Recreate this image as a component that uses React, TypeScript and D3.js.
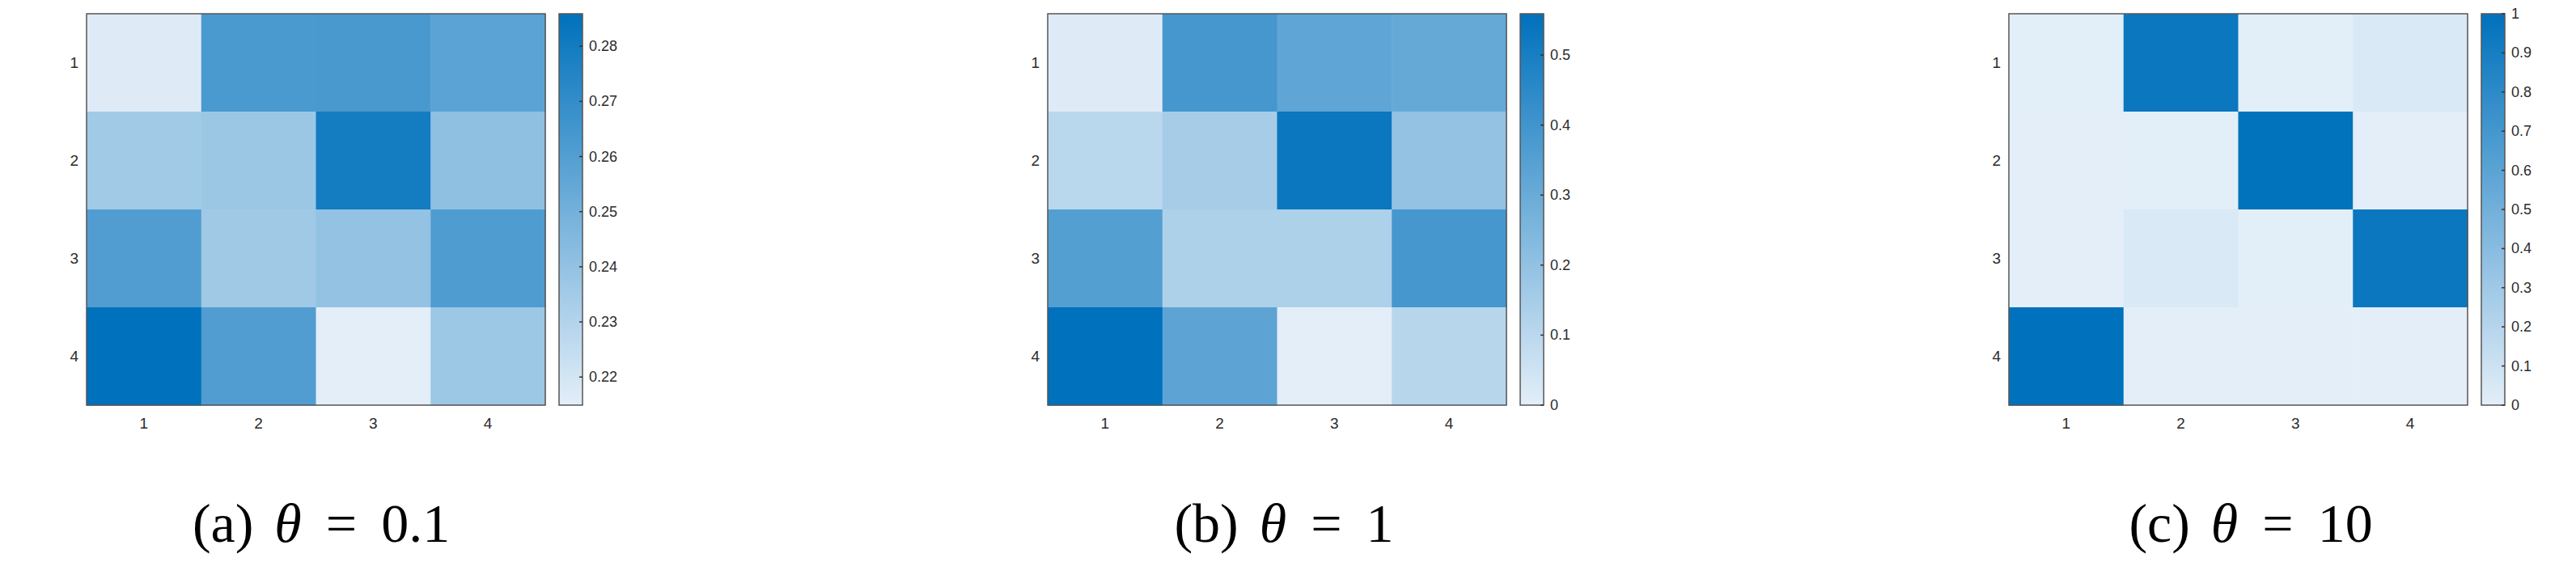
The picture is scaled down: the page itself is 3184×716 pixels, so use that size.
import React from "react";
import * as d3 from "d3";

// ---- data ----
const rowLabels = ["1", "2", "3", "4"];
const colLabels = ["1", "2", "3", "4"];

const matrixA = [
  [0.2164, 0.2628, 0.263, 0.2575],
  [0.2355, 0.2373, 0.2797, 0.2413],
  [0.2607, 0.236, 0.2398, 0.2612],
  [0.2859, 0.2607, 0.2149, 0.237],
];
const matrixB = [
  [0.012, 0.39, 0.326, 0.31],
  [0.1, 0.15, 0.534, 0.198],
  [0.353, 0.13, 0.13, 0.39],
  [0.559, 0.33, 0.0, 0.108],
];
const matrixC = [
  [0.004, 0.955, 0.003, 0.038],
  [0.0, 0.003, 0.995, 0.002],
  [0.002, 0.04, 0.003, 0.955],
  [1.0, 0.0, 0.0, 0.0],
];

const climA = [0.2149, 0.2859];
const climB = [0, 0.559];
const climC = [0, 1];

const ticksA = [0.22, 0.23, 0.24, 0.25, 0.26, 0.27, 0.28];
const ticksB = [0, 0.1, 0.2, 0.3, 0.4, 0.5];
const ticksC = [0, 0.1, 0.2, 0.3, 0.4, 0.5, 0.6, 0.7, 0.8, 0.9, 1];

const captionLetters = ["(a)", "(b)", "(c)"];
const thetaValues = ["0.1", "1", "10"];

// ---- layout ----
const W = 3184;
const H = 716;
const TOP = 17;
const PH = 484;
const PW = 567;
const CBW = 29;
const panelLefts = [107, 1295, 2483];
const cbGap = 17;
const captionCenters = [397, 1587, 2782];
const captionBaseline = 670;

const LIGHT = "#e3eef8";
const DARK = "#0071bc";
const interp = d3.interpolateRgb(LIGHT, DARK);

const panels = [
  { m: matrixA, clim: climA, ticks: ticksA },
  { m: matrixB, clim: climB, ticks: ticksB },
  { m: matrixC, clim: climC, ticks: ticksC },
];

const fmt = (v: number) => d3.format(".2~f")(v);

function Panel({ idx }: { idx: number }) {
  const { m, clim, ticks } = panels[idx];
  const left = panelLefts[idx];
  const x = d3.scaleBand<string>().domain(colLabels).range([left, left + PW]);
  const y = d3.scaleBand<string>().domain(rowLabels).range([TOP, TOP + PH]);
  const c = d3.scaleLinear().domain(clim).range([0, 1]).clamp(true);
  const cbLeft = left + PW + cbGap;
  const cy = d3.scaleLinear().domain(clim).range([TOP + PH, TOP]);
  const gid = `grad${idx}`;
  const stops = d3.range(0, 1.0001, 0.05);
  const textColor = "#2b2b2b";
  return (
    <g>
      <defs>
        <linearGradient id={gid} x1="0" y1="1" x2="0" y2="0">
          {stops.map((s) => (
            <stop key={s} offset={s} stopColor={interp(s)} />
          ))}
        </linearGradient>
      </defs>
      {m.map((row, i) =>
        row.map((v, j) => (
          <rect
            key={`${i}-${j}`}
            x={x(colLabels[j])}
            y={y(rowLabels[i])}
            width={x.bandwidth() + 0.5}
            height={y.bandwidth() + 0.5}
            fill={interp(c(v))}
          />
        ))
      )}
      <rect x={left} y={TOP} width={PW} height={PH} fill="none" stroke="#555" strokeWidth={1.5} />
      {rowLabels.map((r) => (
        <text
          key={r}
          x={left - 10}
          y={(y(r) as number) + y.bandwidth() / 2}
          textAnchor="end"
          dominantBaseline="central"
          fontFamily="Liberation Sans, Arial, sans-serif"
          fontSize={19}
          fill={textColor}
        >
          {r}
        </text>
      ))}
      {colLabels.map((cl) => (
        <text
          key={cl}
          x={(x(cl) as number) + x.bandwidth() / 2}
          y={TOP + PH + 22}
          textAnchor="middle"
          dominantBaseline="central"
          fontFamily="Liberation Sans, Arial, sans-serif"
          fontSize={19}
          fill={textColor}
        >
          {cl}
        </text>
      ))}
      <rect x={cbLeft} y={TOP} width={CBW} height={PH} fill={`url(#${gid})`} stroke="#555" strokeWidth={1.5} />
      {ticks.map((t) => (
        <g key={t}>
          <line x1={cbLeft + CBW - 4} x2={cbLeft + CBW} y1={cy(t)} y2={cy(t)} stroke="#333" strokeWidth={1.5} />
          <text
            x={cbLeft + CBW + 8}
            y={cy(t)}
            dominantBaseline="central"
            fontFamily="Liberation Sans, Arial, sans-serif"
            fontSize={18}
            fill={textColor}
          >
            {fmt(t)}
          </text>
        </g>
      ))}
      <text
        x={captionCenters[idx]}
        y={captionBaseline}
        textAnchor="middle"
        fontFamily="Liberation Serif, Times New Roman, serif"
        fontSize={68}
        fill="#000"
      >
        <tspan>{captionLetters[idx]}</tspan>
        <tspan dx={26} fontStyle="italic">θ</tspan>
        <tspan dx={30}>=</tspan>
        <tspan dx={30}>{thetaValues[idx]}</tspan>
      </text>
    </g>
  );
}

export default function App() {
  return (
    <svg
      width={W}
      height={H}
      style={{ position: "absolute", left: 0, top: 0, background: "#fff" }}
    >
      <rect x={0} y={0} width={W} height={H} fill="#fff" />
      {[0, 1, 2].map((i) => (
        <Panel key={i} idx={i} />
      ))}
    </svg>
  );
}
